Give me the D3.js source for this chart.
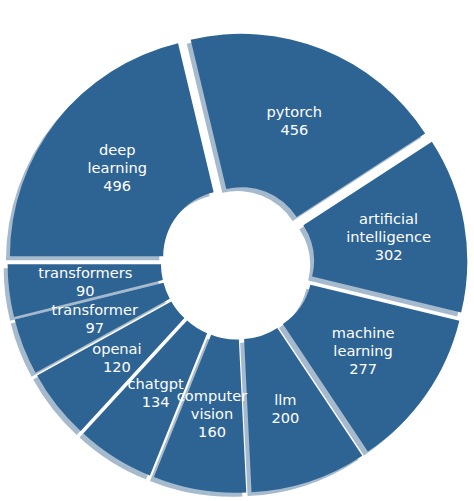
<!DOCTYPE html>
<html>
<head>
<meta charset="utf-8">
<script src="https://cdn.jsdelivr.net/npm/d3@7"></script>
<style>
  html, body { margin: 0; padding: 0; background: #fff; }
  svg { display: block; }
</style>
</head>
<body>
<script>
 // chart values
 var labels = ["deep\nlearning", "pytorch", "artificial\nintelligence", "machine\nlearning", "llm",
               "computer\nvision", "chatgpt", "openai", "transformer", "transformers"];
 var counts = [496, 456, 302, 277, 200, 160, 134, 120, 97, 90];

 // display settings
 var width = 474, height = 501;
 var cx = 237.5, cy = 263;
 var radius = 219;
 var explode = 0.05 * radius;      // every wedge pushed out the same
 var shadowOff = 0.018 * radius;   // shadow goes left and down
 var fill = "#2e6494";
 var shadowFill = "#a6bace";

 var svg = d3.select("body").append("svg")
   .attr("width", width)
   .attr("height", height);

 var g = svg.append("g")
   .attr("transform", "translate(" + cx + "," + cy + ")");

 // start at 9 o'clock and go clockwise
 var pie = d3.pie().sort(null)
   .startAngle(-Math.PI / 2)
   .endAngle(3 * Math.PI / 2);

 var arc = d3.arc()
   .innerRadius(0.3 * radius)
   .outerRadius(radius);

 var slices = pie(counts);

 function offset(d, dist) {
   var a = (d.startAngle + d.endAngle) / 2;
   return [Math.sin(a) * dist, -Math.cos(a) * dist];
 }

 // shadows first, under every wedge
 g.selectAll(".shadow")
   .data(slices)
   .enter().append("path")
   .attr("class", "shadow")
   .attr("d", arc)
   .attr("fill", shadowFill)
   .attr("transform", function(d) {
     var o = offset(d, explode);
     return "translate(" + (o[0] - shadowOff) + "," + (o[1] + shadowOff) + ")";
   });

 g.selectAll(".wedge")
   .data(slices)
   .enter().append("path")
   .attr("class", "wedge")
   .attr("d", arc)
   .attr("fill", fill)
   .attr("transform", function(d) {
     var o = offset(d, explode);
     return "translate(" + o[0] + "," + o[1] + ")";
   });

 // labels: name and count, centred at 0.65 of the radius
 var lineGap = 18;
 slices.forEach(function(d, i) {
   var o = offset(d, explode + 0.65 * radius);
   var lines = labels[i].split("\n").concat([String(counts[i])]);
   var t = g.append("text")
     .attr("x", o[0])
     .attr("y", o[1])
     .attr("text-anchor", "middle")
     .attr("fill", "#ffffff")
     .style("font-family", "'DejaVu Sans', sans-serif")
     .style("font-size", "14.6px");
   lines.forEach(function(s, k) {
     t.append("tspan")
       .attr("x", o[0])
       .attr("y", o[1] + (k - (lines.length - 1) / 2) * lineGap)
       .attr("dy", "0.36em")
       .text(s);
   });
 });
</script>
</body>
</html>
